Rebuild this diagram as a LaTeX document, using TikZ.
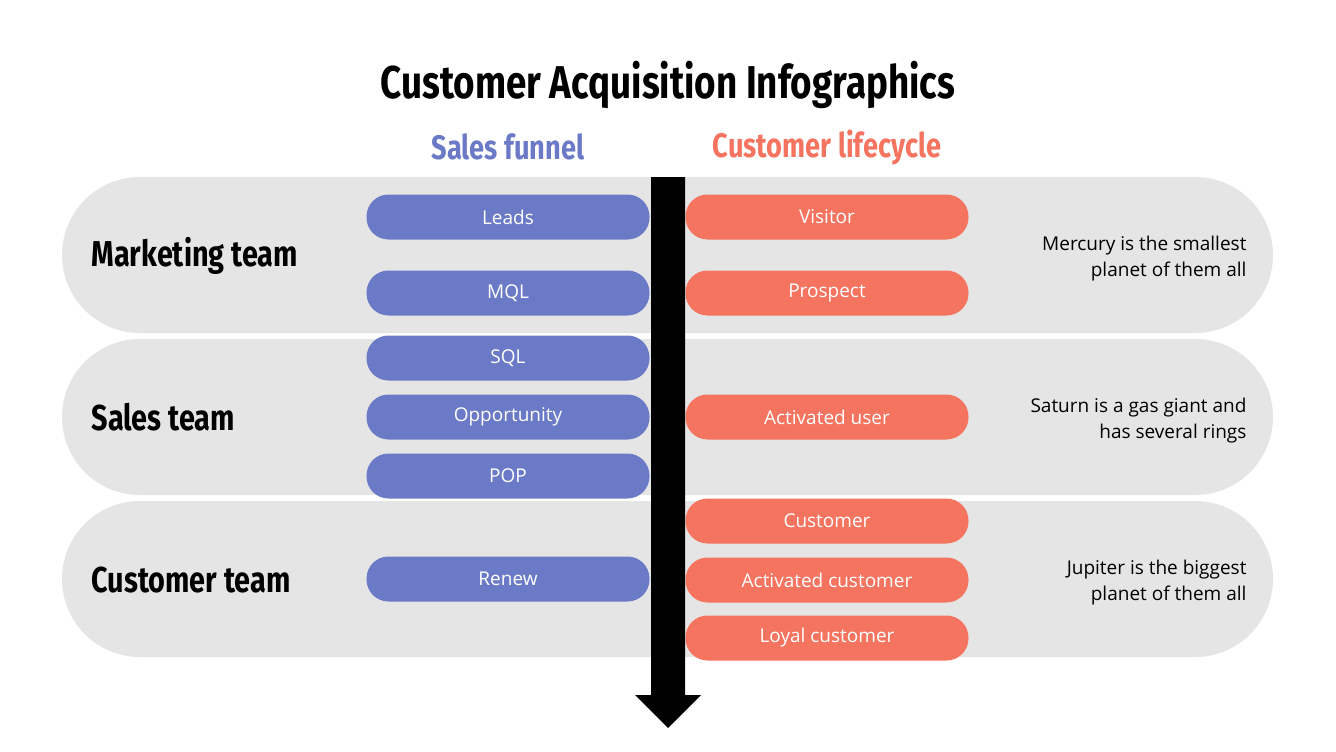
\documentclass[tikz,border=0pt]{standalone}
\usepackage{fontspec}
\setmainfont{Open Sans}
\newfontfamily\cond[FakeStretch=0.8]{Fira Sans}
\begin{document}
\begin{tikzpicture}[x=1pt,y=-1pt,
 band/.style={fill=black!10,draw=none,rounded corners=78pt},
 bpill/.style={fill=blueP,rounded corners=22pt,minimum width=283pt,minimum height=45pt,text=white,font=\fontsize{19}{22}\selectfont},
 opill/.style={fill=orangeP,rounded corners=22pt,minimum width=283pt,minimum height=45pt,text=white,font=\fontsize{19}{22}\selectfont},
 team/.style={anchor=west,font=\cond\bfseries\fontsize{36}{40}\selectfont},
 desc/.style={anchor=east,align=right,font=\fontsize{19}{26}\selectfont}]
\definecolor{blueP}{HTML}{6B7AC6}
\definecolor{orangeP}{HTML}{F47460}
\useasboundingbox (0,0) rectangle (1336,752);
\fill[white] (0,0) rectangle (1336,752);
\foreach \t in {177,339,501}{\path[band] (62,\t) rectangle (1273,\t+156);}
\node (title) at (668,85) {\cond\bfseries\fontsize{46}{50}\selectfont Customer Acquisition Infographics};
\node[text=blueP] (sf) at (508,147) {\cond\bfseries\fontsize{34}{38}\selectfont Sales funnel};
\node[text=orangeP] (cl) at (827,147) {\cond\bfseries\fontsize{34}{38}\selectfont Customer lifecycle};
\node[bpill] (b1) at (508,217) {Leads};
\node[bpill] (b2) at (508,293) {MQL};
\node[bpill] (b3) at (508,358) {SQL};
\node[bpill] (b4) at (508,417) {Opportunity};
\node[bpill] (b5) at (508,476) {POP};
\node[bpill] (b6) at (508,579) {Renew};
\node[opill] (o1) at (827,217) {Visitor};
\node[opill] (o2) at (827,293) {Prospect};
\node[opill] (o3) at (827,417) {Activated user};
\node[opill] (o4) at (827,521) {Customer};
\node[opill] (o5) at (827,580) {Activated customer};
\node[opill] (o6) at (827,638) {Loyal customer};
\node[team] (t1) at (88,256) {Marketing team};
\node[team] (t2) at (88,417) {Sales team};
\node[team] (t3) at (88,580) {Customer team};
\node[desc] (d1) at (1250,259) {Mercury is the smallest\\planet of them all};
\node[desc] (d2) at (1250,421) {Saturn is a gas giant and\\has several rings};
\node[desc] (d3) at (1250,583) {Jupiter is the biggest\\planet of them all};
\fill[black] (651,177) -- (685,177) -- (685,695) -- (701,695) -- (668,728) -- (635,695) -- (651,695) -- cycle;
\end{tikzpicture}
\end{document}
